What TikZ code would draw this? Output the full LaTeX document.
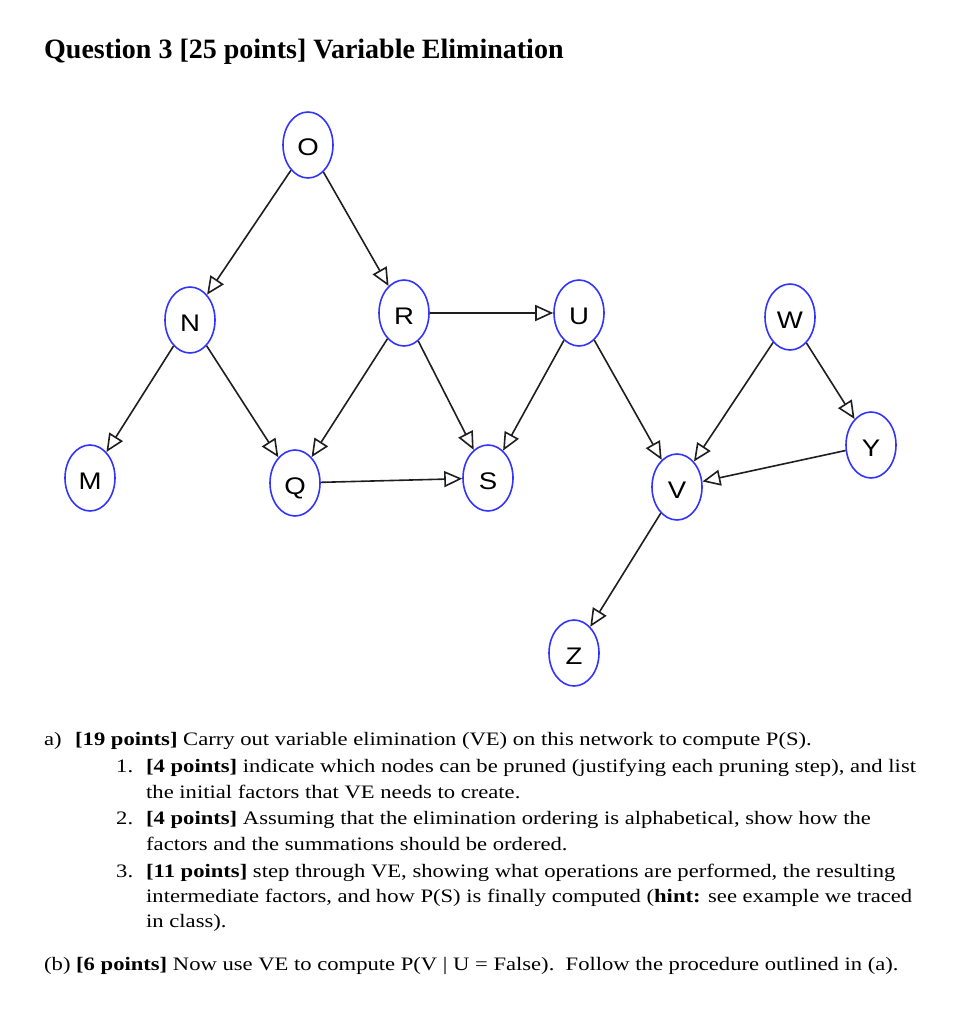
\documentclass[tikz,border=0pt]{standalone}
\usepackage{fontspec}
\setmainfont{Liberation Serif}[FakeStretch=1.19]
\setsansfont{Liberation Sans}[FakeStretch=1.15]
\newfontfamily\titelschrift{Liberation Serif}
\usetikzlibrary{arrows.meta, shapes.geometric}

\definecolor{knotenblau}{RGB}{51,51,255}
\definecolor{kantengrau}{RGB}{30,30,30}

\begin{document}
\begin{tikzpicture}[
    x=1pt, y=-1pt,
    knoten/.style={ellipse, draw=knotenblau, line width=1.6pt, minimum width=50pt, minimum height=66pt, inner sep=0pt, text height=22pt, text depth=0pt, font=\sffamily\fontsize{24}{24}\selectfont},
    kante/.style={draw=kantengrau, line width=1.6pt, -{Triangle[open, length=18pt, width=16pt]}},
    zeile/.style={anchor=base west, inner sep=0pt, font=\fontsize{19}{26}\selectfont}
]
\useasboundingbox (0,0) rectangle (970,1024);

% Titel
\node[anchor=base west, inner sep=0pt, font=\titelschrift\bfseries\fontsize{28}{32}\selectfont] (titel) at (44,59) {Question 3 [25 points] Variable Elimination};

% Knoten
\node[knoten] (O) at (308,145) {O};
\node[knoten] (N) at (190,320) {N};
\node[knoten] (R) at (404,313) {R};
\node[knoten] (U) at (579,313) {U};
\node[knoten] (W) at (790,317) {W};
\node[knoten] (M) at (90,478) {M};
\node[knoten] (Q) at (295,483) {Q};
\node[knoten] (S) at (488,478) {S};
\node[knoten] (Y) at (871,445) {Y};
\node[knoten] (V) at (677,487) {V};
\node[knoten] (Z) at (574,653) {Z};

% Kanten
\draw[kante] (O) -- (N);
\draw[kante] (O) -- (R);
\draw[kante] (N) -- (M);
\draw[kante] (N) -- (Q);
\draw[kante] (R) -- (Q);
\draw[kante] (R) -- (S);
\draw[kante] (R) -- (U);
\draw[kante] (Q) -- (S);
\draw[kante] (U) -- (S);
\draw[kante] (U) -- (V);
\draw[kante] (W) -- (V);
\draw[kante] (W) -- (Y);
\draw[kante] (Y) -- (V);
\draw[kante] (V) -- (Z);

% Aufgabentext
\node[zeile] (a) at (44,745) {a)};
\node[zeile] (a0) at (75,745) {\textbf{[19 points]} Carry out variable elimination (VE) on this network to compute P(S).};
\node[zeile] (n1) at (116,772) {1.};
\node[zeile] (t1a) at (146,772) {\textbf{[4 points]} indicate which nodes can be pruned (justifying each pruning step), and list};
\node[zeile] (t1b) at (146,798) {the initial factors that VE needs to create.};
\node[zeile] (n2) at (116,824) {2.};
\node[zeile] (t2a) at (146,824) {\textbf{[4 points]} Assuming that the elimination ordering is alphabetical, show how the};
\node[zeile] (t2b) at (146,850) {factors and the summations should be ordered.};
\node[zeile] (n3) at (116,877) {3.};
\node[zeile] (t3a) at (146,877) {\textbf{[11 points]} step through VE, showing what operations are performed, the resulting};
\node[zeile] (t3b) at (146,902) {intermediate factors, and how P(S) is finally computed (\textbf{hint:} see example we traced};
\node[zeile] (t3c) at (146,927) {in class).};
\node[zeile] (b) at (44,970) {(b) \textbf{[6 points]} Now use VE to compute P(V | U = False).\ \ Follow the procedure outlined in (a).};

\end{tikzpicture}
\end{document}
